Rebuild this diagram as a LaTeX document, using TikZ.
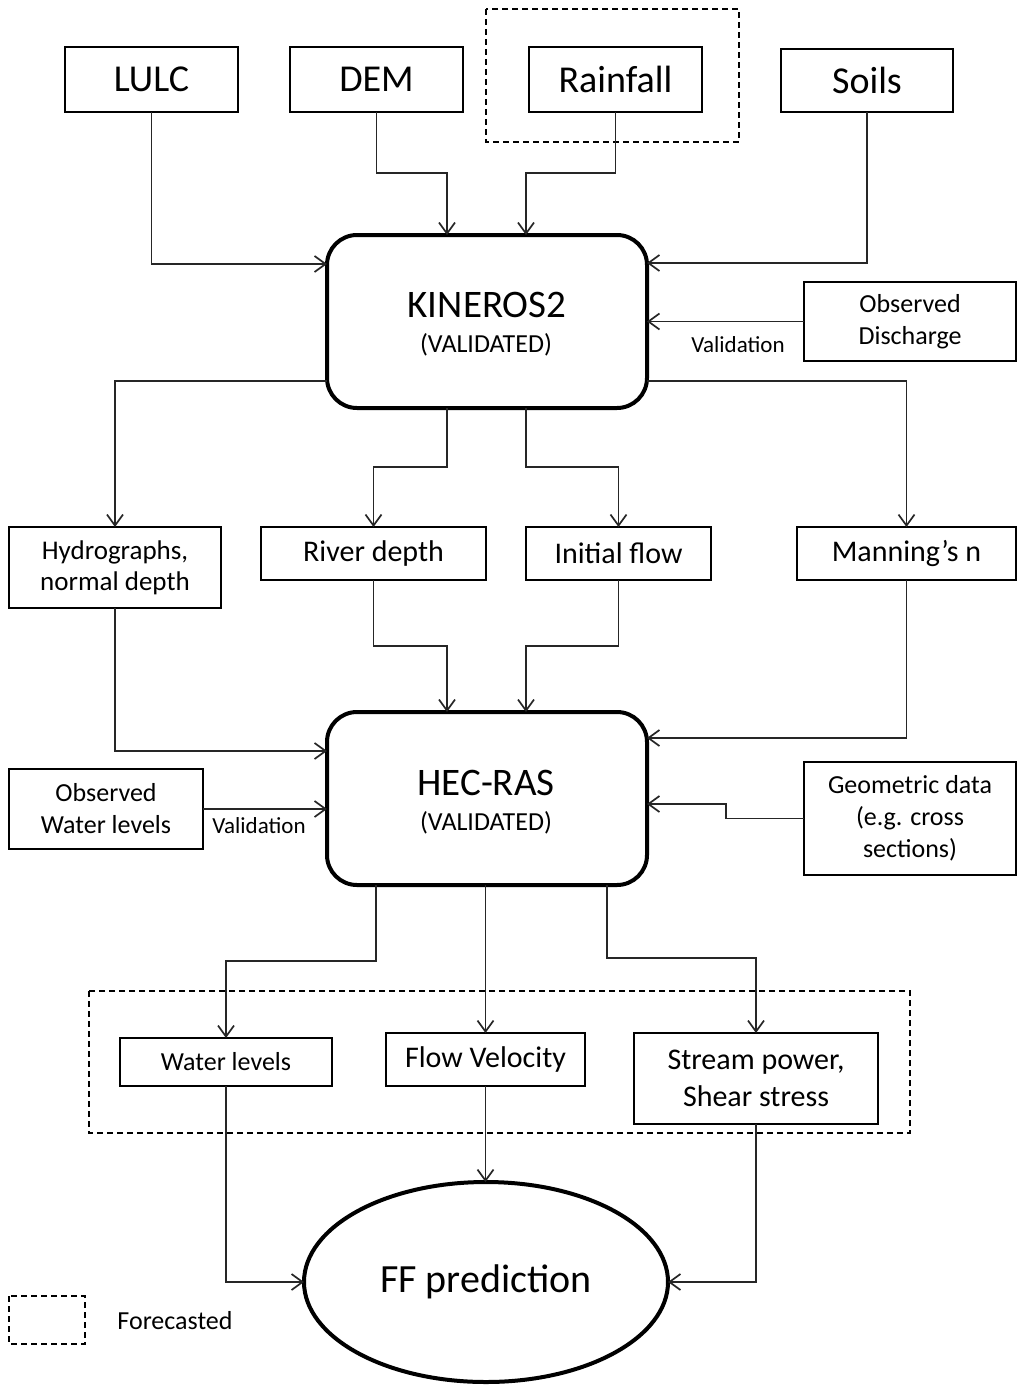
\documentclass[tikz,border=0pt]{standalone}
\usepackage{fontspec}
\setmainfont{Carlito}
\usetikzlibrary{arrows.meta,shapes.geometric}
\begin{document}
\begin{tikzpicture}[x=1pt,y=-1pt,
  box/.style={draw,line width=1.6pt,inner sep=0pt,outer sep=0pt,align=center},
  mainbox/.style={draw,line width=4pt,rounded corners=30pt,inner sep=0pt,outer sep=0pt,minimum width=320pt,minimum height=173pt},
  fcbox/.style={draw,line width=1.3pt,dash pattern=on 6pt off 4pt},
  arr/.style={line width=1.7pt,draw=black!85,-{Straight Barb[length=11pt,width=16pt]}},
  big/.style={font=\fontsize{38}{44}\selectfont},
  mid/.style={font=\fontsize{30}{37}\selectfont},
  sml/.style={font=\fontsize{26}{32}\selectfont},
  lbl/.style={font=\fontsize{23}{28}\selectfont,inner sep=0pt},
]
\useasboundingbox[fill=white] (0,0) rectangle (1024,1391);
% dashed frames
\draw[fcbox] (486,9) rectangle (739,142);
\draw[fcbox] (89,991) rectangle (910,1133);
\draw[fcbox] (9,1296) rectangle (85,1344);
\node[sml,anchor=center] (fcl) at (175,1321) {Forecasted};
% inputs
\node[box,big,minimum width=173pt,minimum height=65pt] (lulc) at (151.5,79.5) {LULC};
\node[box,big,minimum width=173pt,minimum height=65pt] (dem) at (376.5,79.5) {DEM};
\node[box,big,minimum width=173pt,minimum height=65pt] (rain) at (615.5,79.5) {Rainfall};
\node[box,big,minimum width=172pt,minimum height=63pt] (soils) at (867,80.5) {Soils};
% KINEROS2
\node[mainbox] (kin) at (487,321.5) {};
\node[font=\fontsize{39}{44}\selectfont,inner sep=0pt] (kint) at (487,305) {KINEROS2};
\node[font=\fontsize{26}{30}\selectfont,inner sep=0pt] (kinv) at (486,345) {(VALIDATED)};
\node[box,sml,minimum width=212pt,minimum height=79pt] (obsq) at (910,321.5) {Observed\\Discharge};
% intermediate
\node[box,font=\fontsize{27}{31}\selectfont,minimum width=212pt,minimum height=81pt] (hydro) at (115,567.5) {Hydrographs,\\normal depth};
\node[box,mid,minimum width=225pt,minimum height=53pt] (river) at (373.5,553.5) {River depth};
\node[box,mid,minimum width=185pt,minimum height=53pt] (initf) at (618.5,553.5) {Initial flow};
\node[box,mid,minimum width=219pt,minimum height=53pt] (mann) at (906.5,553.5) {Manning’s n};
% HEC-RAS
\node[mainbox] (hec) at (487,798.5) {};
\node[font=\fontsize{39}{44}\selectfont,inner sep=0pt] (hect) at (486,783) {HEC-RAS};
\node[font=\fontsize{26}{30}\selectfont,inner sep=0pt] (hecv) at (486,823) {(VALIDATED)};
\node[box,sml,minimum width=194pt,minimum height=80pt] (obsw) at (106,809) {Observed\\Water levels};
\node[box,sml,minimum width=212pt,minimum height=113pt] (geom) at (910,818.5) {Geometric data\\(e.g. cross\\sections)};
% outputs
\node[box,sml,minimum width=212pt,minimum height=48pt] (wl) at (226,1062) {Water levels};
\node[box,mid,minimum width=199pt,minimum height=53pt] (fv) at (485.5,1059.5) {Flow Velocity};
\node[box,mid,minimum width=244pt,minimum height=91pt] (sp) at (756,1078.5) {Stream power,\\Shear stress};
\node[draw,ellipse,line width=4pt,minimum width=364pt,minimum height=200pt,inner sep=0pt,outer sep=0pt,font=\fontsize{40}{46}\selectfont] (ff) at (486,1282) {FF prediction};
% connectors to KINEROS2
\draw[arr] (lulc.south) |- (kin.west |- 0,264);
\draw[arr] (dem.south) -- ++(0,61) -| ([xshift=-40pt]kin.north);
\draw[arr] (rain.south) -- ++(0,61) -| ([xshift=39pt]kin.north);
\draw[arr] (soils.south) |- (kin.east |- 0,263);
\draw[arr] (obsq.west) -- (kin.east |- obsq.west);
\node[lbl] (v1) at (738,345) {Validation};
% KINEROS2 outputs
\draw[arr] (kin.west |- 0,381) -| (hydro.north);
\draw[arr] ([xshift=-40pt]kin.south) -- ++(0,59) -| (river.north);
\draw[arr] ([xshift=39pt]kin.south) -- ++(0,59) -| (initf.north);
\draw[arr] (kin.east |- 0,381) -| (mann.north);
% to HEC-RAS
\draw[arr] (hydro.south) |- (hec.west |- 0,751);
\draw[arr] (river.south) -- ++(0,66) -| ([xshift=-40pt]hec.north);
\draw[arr] (initf.south) -- ++(0,66) -| ([xshift=39pt]hec.north);
\draw[arr] (mann.south) |- (hec.east |- 0,738);
\draw[arr] (obsw.east) -- (hec.west |- obsw.east);
\node[lbl] (v2) at (259,826) {Validation};
\draw[arr] (geom.west) -- ++(-78,0) |- (hec.east |- 0,804);
% HEC-RAS outputs
\draw[arr] ([xshift=-111pt]hec.south) -- ++(0,76) -| (wl.north);
\draw[arr] (hec.south -| fv.north) -- (fv.north);
\draw[arr] ([xshift=120pt]hec.south) -- ++(0,73) -| (sp.north);
% to FF prediction
\draw[arr] (wl.south) |- (ff.west);
\draw[arr] (fv.south) -- (fv.south |- ff.north);
\draw[arr] (sp.south) |- (ff.east);
\end{tikzpicture}
\end{document}
